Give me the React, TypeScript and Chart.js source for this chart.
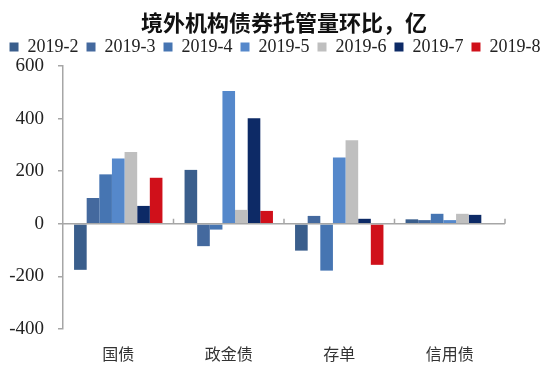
import React, { useEffect, useRef } from "react";
import { Chart, registerables } from "chart.js";

Chart.register(...registerables);

const categories = ["国债", "政金债", "存单", "信用债"];
const seriesNames = ["2019-2", "2019-3", "2019-4", "2019-5", "2019-6", "2019-7", "2019-8"];
const s2019_2 = [-175, 205, -102, 17];
const s2019_3 = [98, -85, 30, 14];
const s2019_4 = [188, -22, -178, 38];
const s2019_5 = [248, 505, 252, 14];
const s2019_6 = [273, 53, 318, 38];
const s2019_7 = [68, 401, 19, 34];
const s2019_8 = [175, 49, -156, 0];
const yTicks = [-400, -200, 0, 200, 400, 600];

const seriesValues = [s2019_2, s2019_3, s2019_4, s2019_5, s2019_6, s2019_7, s2019_8];
const colors = ["#3A5E8C", "#44699E", "#4675B2", "#5588CB", "#BFBFBF", "#0D2A66", "#D0101A"];

const tickPlugin = {
  id: "catTicks",
  afterDatasetsDraw(chart: any) {
    const y = chart.scales.y;
    const ctx = chart.ctx;
    const y0 = y.getPixelForValue(0);
    const { left, right } = chart.chartArea;
    ctx.save();
    ctx.strokeStyle = "#A6A6A6";
    ctx.lineWidth = 1.5;
    ctx.beginPath();
    ctx.moveTo(left, y0);
    ctx.lineTo(right, y0);
    const n = categories.length;
    const w = (right - left) / n;
    for (let i = 1; i <= n; i++) {
      const px = left + w * i;
      ctx.moveTo(px, y0);
      ctx.lineTo(px, y0 - 5);
    }
    ctx.stroke();
    ctx.restore();
  },
};

export default function App() {
  const ref = useRef<HTMLCanvasElement>(null);
  useEffect(() => {
    const chart = new Chart(ref.current!, {
      type: "bar",
      data: {
        labels: categories,
        datasets: seriesNames.map((name, i) => ({
          label: name,
          data: seriesValues[i],
          backgroundColor: colors[i],
          borderWidth: 0,
          barPercentage: 1,
          categoryPercentage: 0.8,
          xAxisID: "x",
          yAxisID: "y",
        })),
      },
      options: {
        animation: false,
        responsive: false,
        layout: { padding: { left: 0, right: 0, top: 0, bottom: 0 } },
        plugins: {
          title: {
            display: true,
            fullSize: false,
            text: "境外机构债券托管量环比，亿",
            font: { family: "'Noto Sans CJK SC'", size: 22, weight: "bold", lineHeight: 1 },
            color: "#111",
            padding: { top: 12, bottom: -4 },
          },
          legend: {
            position: "top",
            labels: {
              boxWidth: 9,
              boxHeight: 9,
              padding: 8,
              color: "#222",
              font: { family: "'Liberation Serif'", size: 18 },
            },
          },
          tooltip: { enabled: false },
        },
        scales: {
          x: {
            type: "category",
            position: { y: 0 } as any,
            ticks: { display: false },
            grid: { display: false, drawTicks: false },
            border: { display: false },
          },
          x2: {
            type: "category",
            labels: categories,
            position: "bottom",
            offset: true,
            grid: { display: false, drawTicks: false },
            border: { display: false },
            ticks: {
              padding: 15,
              color: "#333",
              font: { family: "'Noto Sans CJK SC'", size: 16 },
            },
            afterFit: (axis: any) => {
              axis.height = 42;
            },
          },
          y: {
            min: -400,
            max: 600,
            afterBuildTicks: (axis: any) => {
              axis.ticks = yTicks.map((v) => ({ value: v }));
            },
            afterFit: (axis: any) => {
              axis.width = 63;
            },
            grid: { drawOnChartArea: false, tickLength: 5, color: "#A6A6A6", lineWidth: 1.5 },
            border: { color: "#A6A6A6", width: 1.5 },
            ticks: {
              padding: 14,
              color: "#222",
              font: { family: "'Liberation Serif'", size: 19 },
            },
          },
          yRight: {
            position: "right",
            min: -400,
            max: 600,
            grid: { display: false, drawTicks: false },
            border: { display: false },
            ticks: { display: false },
            afterFit: (axis: any) => {
              axis.width = 45;
            },
          },
        },
      },
      plugins: [tickPlugin],
    });
    return () => chart.destroy();
  }, []);
  return (
    <div style={{ position: "fixed", left: 0, top: 0, width: 550, height: 371, background: "#fff" }}>
      <canvas ref={ref} width={550} height={371} />
    </div>
  );
}
